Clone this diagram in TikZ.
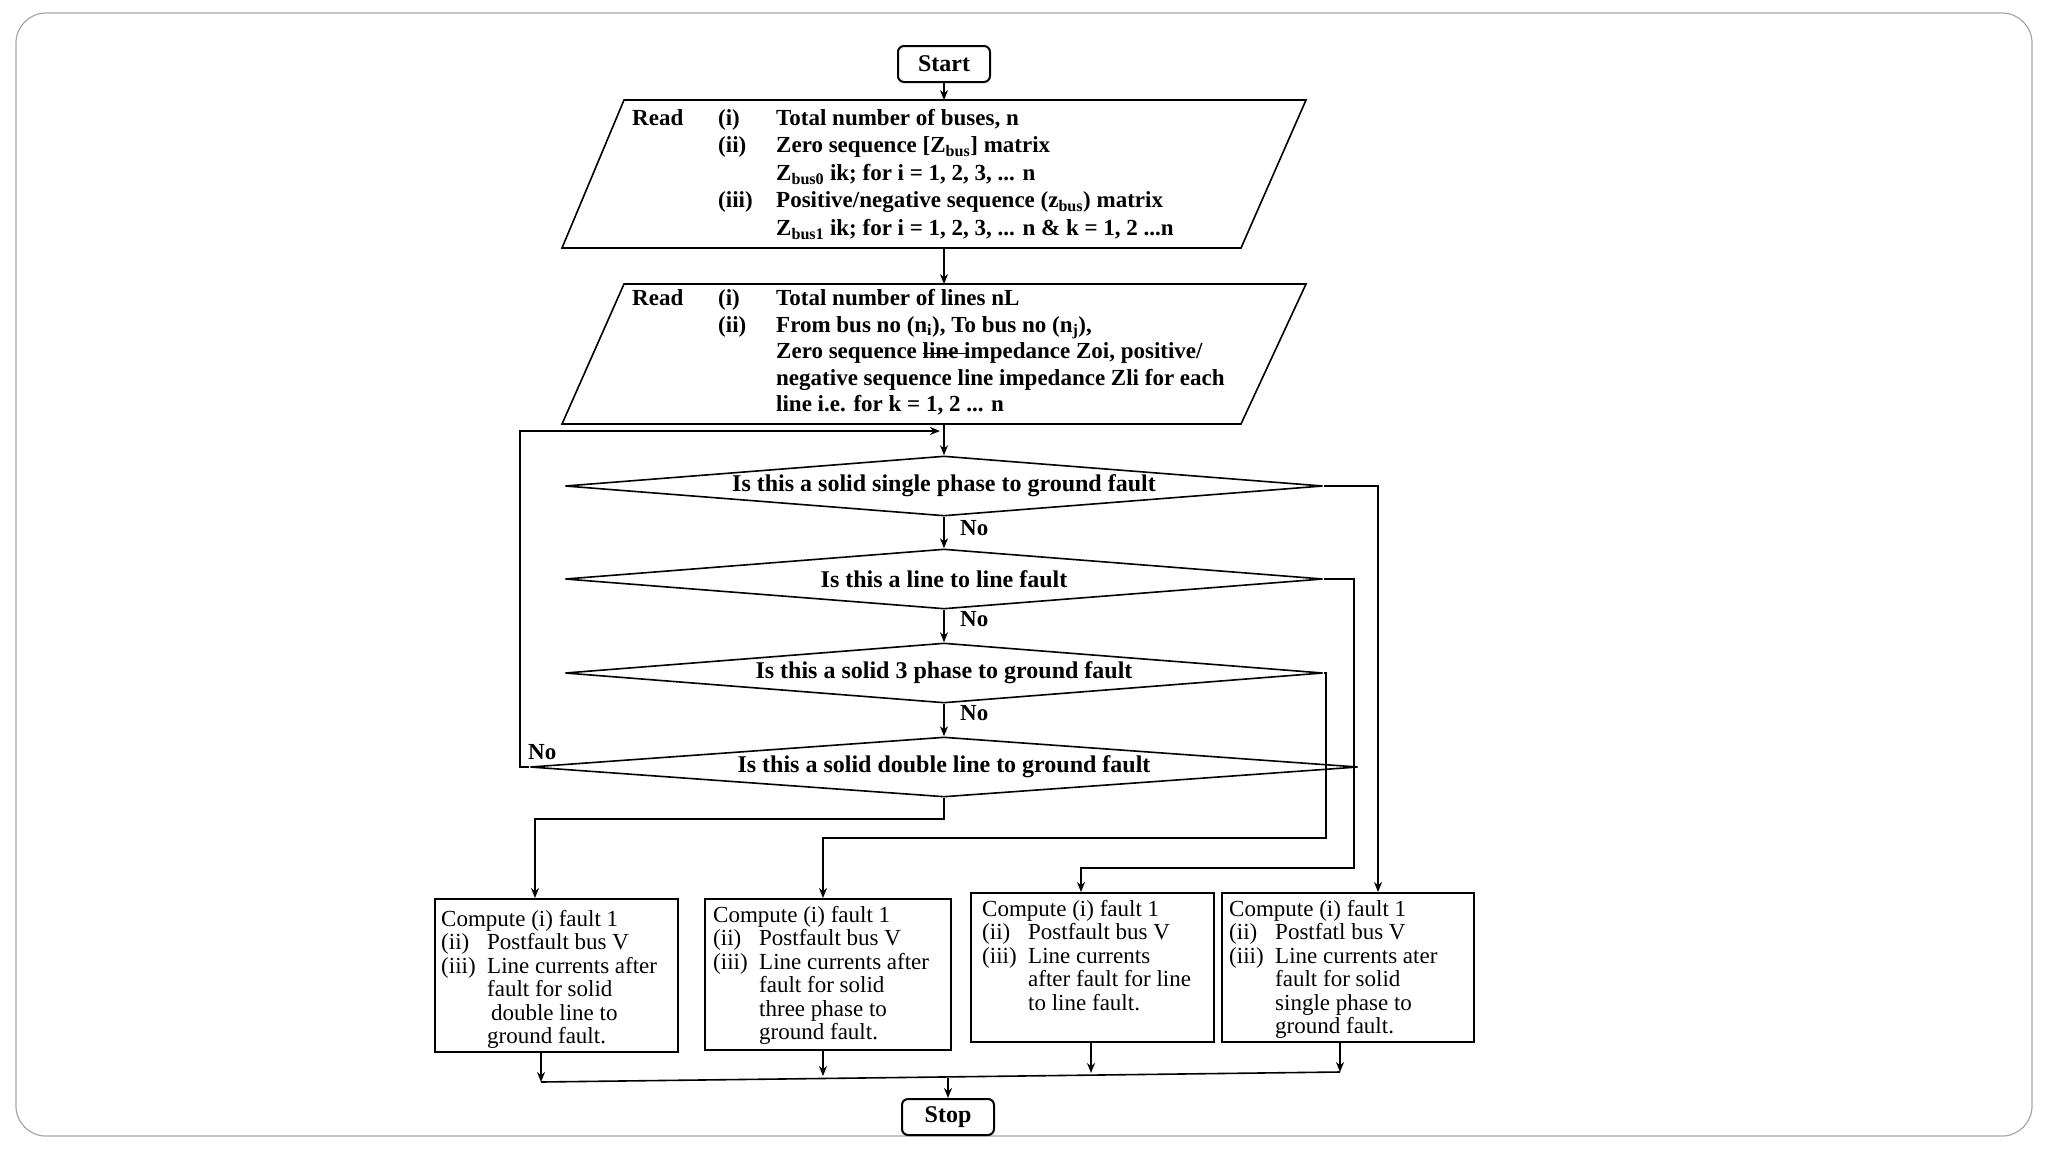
\documentclass[tikz,border=0pt]{standalone}
\usepackage{fontspec}
\usepackage{array}
\setmainfont{Liberation Serif}
\usetikzlibrary{shapes.geometric,arrows.meta}
\tikzset{
  ln/.style={line width=1.6pt},
  arr/.style={ln,-{Stealth[length=10pt,width=8pt]}},
  term/.style={draw,line width=2pt,rounded corners=6pt,minimum width=92pt,minimum height=36pt,font=\fontsize{24}{28}\selectfont\bfseries},
  dec/.style={draw,ln,diamond,aspect=12,inner sep=0pt,minimum height=60pt,font=\fontsize{24}{28}\selectfont\bfseries},
  cbox/.style={draw,ln,anchor=north west,inner sep=0pt},
  txt/.style={font=\fontsize{23}{23.5}\selectfont,inner sep=0pt},
  lab/.style={font=\fontsize{23}{26}\selectfont\bfseries,inner sep=0pt}
}
\newcolumntype{R}{@{}p{86pt}@{}p{58pt}@{}l@{}}
\begin{document}
\begin{tikzpicture}[x=1pt,y=-1pt]
\useasboundingbox (0,0) rectangle (2048,1152);
\draw[line width=1.2pt,gray!70,rounded corners=30pt] (16,13) rectangle (2032,1136);
% start
\node[term] (start) at (944,64) {Start};
% parallelograms
\draw[ln] (624,100) -- (1306,100) -- (1241,248) -- (562,248) -- cycle;
\coordinate (p1t) at (944,100); \coordinate (p1b) at (944,248);
\node[txt,anchor=north west] (p1) at (632,106) {\fontsize{23}{27.5}\selectfont\bfseries
\begin{tabular}{R}
Read & (i) & Total number of buses, n\\
 & (ii) & Zero sequence [Z$_{\mathbf{bus}}$] matrix\\
 & & Z$_{\mathbf{bus0}}$ ik; for i = 1, 2, 3, ... n\\
 & (iii) & Positive/negative sequence (z$_{\mathbf{bus}}$) matrix\\
 & & Z$_{\mathbf{bus1}}$ ik; for i = 1, 2, 3, ... n \& k = 1, 2 ...n
\end{tabular}};
\draw[ln] (624,284) -- (1306,284) -- (1241,424) -- (562,424) -- cycle;
\coordinate (p2t) at (944,284); \coordinate (p2b) at (944,424);
\node[txt,anchor=north west] (p2) at (632,287) {\fontsize{23}{26.5}\selectfont\bfseries
\begin{tabular}{R}
Read & (i) & Total number of lines nL\\
 & (ii) & From bus no (n$_{\mathbf{i}}$), To bus no (n$_{\mathbf{j}}$),\\
 & & Zero sequence \rlap{\rule[0.5ex]{2.0em}{0.9pt}}line impedance Zoi, positive/\\
 & & negative sequence line impedance Zli for each\\
 & & line i.e. for k = 1, 2 ... n
\end{tabular}};
\draw[arr] (start) -- (p1t);
\draw[arr] (p1b) -- (p2t);
% diamonds
\node[dec,minimum width=758pt] (d1) at (944,486) {Is this a solid single phase to ground fault};
\node[dec,minimum width=758pt] (d2) at (944,579) {Is this a line to line fault};
\node[dec,minimum width=758pt] (d3) at (944,673) {Is this a solid 3 phase to ground fault};
\node[dec,minimum width=828pt] (d4) at (944,767) {Is this a solid double line to ground fault};
\draw[arr] (p2b) -- (d1.north);
\draw[arr] (d1.south) -- (d2.north);
\draw[arr] (d2.south) -- (d3.north);
\draw[arr] (d3.south) -- (d4.north);
\node[lab,anchor=west] (n1) at (960,528) {No};
\node[lab,anchor=west] (n2) at (960,619) {No};
\node[lab,anchor=west] (n3) at (960,713) {No};
\node[lab,anchor=south west] (n4) at (528,760) {No};
% loop
\coordinate (lp1) at (520,431);
\draw[arr] (d4.west) -- (520,767) -- (lp1) -- (940,431);
% boxes
\node[cbox,minimum width=243pt,minimum height=153pt] (b1) at (434,898) {};
\node[txt,anchor=north west,align=left] (t1) at (441,910) {Compute (i) fault 1\\[1pt]
\begin{tabular}{@{}p{46pt}@{}l@{}}(ii) & Postfault bus V\\ (iii) & Line currents after\\ & fault for solid\\ & \,double line to\\ & ground fault.\end{tabular}};
\node[cbox,minimum width=246pt,minimum height=151pt] (b2) at (704,898) {};
\node[txt,anchor=north west,align=left] (t2) at (713,906) {Compute (i) fault 1\\[1pt]
\begin{tabular}{@{}p{46pt}@{}l@{}}(ii) & Postfault bus V\\ (iii) & Line currents after\\ & fault for solid\\ & three phase to\\ & ground fault.\end{tabular}};
\node[cbox,minimum width=243pt,minimum height=149pt] (b3) at (970,892) {};
\node[txt,anchor=north west,align=left] (t3) at (982,900) {Compute (i) fault 1\\[1pt]
\begin{tabular}{@{}p{46pt}@{}l@{}}(ii) & Postfault bus V\\ (iii) & Line currents\\ & after fault for line\\ & to line fault.\end{tabular}};
\node[cbox,minimum width=252pt,minimum height=149pt] (b4) at (1221,892) {};
\node[txt,anchor=north west,align=left] (t4) at (1229,900) {Compute (i) fault 1\\[1pt]
\begin{tabular}{@{}p{46pt}@{}l@{}}(ii) & Postfatl bus V\\ (iii) & Line currents ater\\ & fault for solid\\ & single phase to\\ & ground fault.\end{tabular}};
% yes branches
\draw[arr] (d1.east) -- (1378,486) -- (1378,892);
\draw[arr] (d2.east) -- (1354,579) -- (1354,868) -- (1081,868) -- (1081,892);
\draw[arr] (d3.east) -- (1326,673) -- (1326,838) -- (823,838) -- (823,898);
\draw[arr] (d4.south) -- (944,819) -- (535,819) -- (535,898);
% merge
\node[term] (stop) at (948,1117) {Stop};
\coordinate (jl) at (541,1082);
\draw[arr] (541,1051) -- (jl);
\draw[ln] (jl) -- (1340,1072);
\draw[arr] (823,1049) -- (823,1076);
\draw[arr] (1091,1041) -- (1091,1073);
\draw[arr] (1340,1041) -- (1340,1072);
\draw[arr] (948,1078) -- (stop.north);
\end{tikzpicture}
\end{document}
